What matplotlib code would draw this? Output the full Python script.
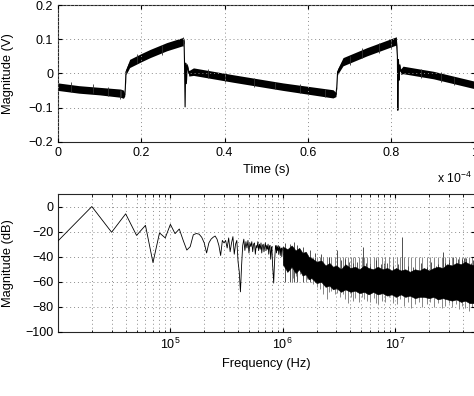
import numpy as np
import matplotlib.pyplot as plt
from matplotlib.ticker import FixedLocator, LogLocator, NullFormatter, FuncFormatter

plt.rcParams['font.family'] = ['Liberation Sans', 'DejaVu Sans']
plt.rcParams['mathtext.default'] = 'regular'

# --- Zeitsignal (t in 1e-4 s) ---
sig_t = [0.00, 0.05, 0.10, 0.150, 0.157, 0.160, 0.1615, 0.163, 0.172, 0.20, 0.221, 0.261, 0.300,
         0.3025, 0.3035, 0.3050, 0.3065, 0.3080, 0.310, 0.314, 0.325, 0.42, 0.54, 0.660,
         0.667, 0.669, 0.671, 0.684, 0.741, 0.812, 0.8145, 0.8155, 0.8170, 0.8185, 0.820,
         0.8225, 0.828, 0.901, 1.00]
sig_v = [-0.039, -0.047, -0.052, -0.058, -0.061, -0.063, -0.045, 0.004, 0.029, 0.046, 0.058, 0.078, 0.093,
         0.095, 0.040, -0.098, 0.030, -0.030, 0.025, 0.000, 0.005, -0.015, -0.039, -0.060,
         -0.062, -0.040, 0.005, 0.034, 0.063, 0.095, 0.050, -0.108, 0.040, -0.020, 0.025,
         0.005, 0.010, -0.005, -0.034]
sig_amp = [0.011, 0.011, 0.011, 0.012, 0.012, 0.004, 0.003, 0.008, 0.012, 0.012, 0.012, 0.012, 0.012,
           0.006, 0.002, 0.002, 0.002, 0.002, 0.004, 0.008, 0.011, 0.011, 0.011, 0.012,
           0.006, 0.002, 0.008, 0.012, 0.012, 0.012, 0.002, 0.002, 0.002, 0.002, 0.004,
           0.008, 0.011, 0.011, 0.011]
# einzelne Ausreisser
spike_t = [0.03, 0.085, 0.12, 0.148, 0.152, 0.19, 0.25, 0.30, 0.36, 0.40, 0.47, 0.52, 0.58, 0.64,
           0.70, 0.73, 0.77, 0.80, 0.87, 0.92, 0.95]
spike_lo = [-0.055, -0.058, -0.066, -0.075, -0.070, 0.030, 0.055, 0.080, -0.015, -0.025, -0.040, -0.045,
            -0.058, -0.070, 0.025, 0.045, 0.060, 0.070, -0.015, -0.025, -0.035]
spike_hi = [-0.025, -0.030, -0.040, -0.050, -0.050, 0.058, 0.082, 0.105, 0.012, 0.002, -0.015, -0.025,
            -0.032, -0.045, 0.052, 0.075, 0.090, 0.100, 0.012, 0.005, -0.010]

# --- Spektrum ---
# Bins von 10 kHz bis 1 MHz (10 kHz Schritt)
spec_db = [-27.4, 0.0, -20.5, -5.8, -23.0, -15.0, -44.7, -21.0, -25.0, -14.2,
           -21.6, -17.9, -27.0, -34.7, -32.0, -22.5, -21.5, -22.0, -24.5, -29.0,
           -37.0, -29.0, -26.0, -24.5, -23.5, -26.0, -31.0, -39.0, -27.0, -29.0,
           -27, -33, -25, -36, -29, -24, -38, -30, -27, -44,
           -52, -68, -47, -31, -26, -35, -28, -33, -27, -37,
           -29, -32, -28, -36, -30, -29, -38, -31, -33, -28,
           -35, -30, -34, -29, -37, -31, -30, -36, -32, -29,
           -35, -31, -34, -30, -38, -32, -31, -42, -35, -32,
           -45, -53, -61, -49, -40, -33, -31, -37, -32, -35,
           -31, -38, -33, -32, -39, -34, -33, -40, -35, -33]
bin_f = np.arange(1, 101) * 1e4

# dichtes Band oberhalb 1 MHz
band_f = [1.0e6, 1.1e6, 1.2e6, 1.3e6, 1.4e6, 1.5e6, 1.6e6, 1.7e6, 1.8e6, 2.0e6, 2.2e6, 2.4e6,
          2.6e6, 2.8e6, 3.0e6, 3.3e6, 3.6e6, 4.0e6, 4.4e6, 4.8e6, 5.3e6, 5.8e6, 6.4e6, 7.0e6,
          7.7e6, 8.5e6, 9.3e6, 1.02e7, 1.12e7, 1.23e7, 1.35e7, 1.5e7, 1.65e7, 1.8e7, 2.0e7,
          2.2e7, 2.4e7, 2.65e7, 2.9e7, 3.2e7, 3.5e7, 3.85e7, 4.2e7, 4.6e7, 5.1e7]
band_top = [-32, -34, -31, -35, -33, -37, -36, -40, -41, -44, -43, -47,
            -45, -48, -47, -50, -46, -49, -48, -50, -47, -49, -50, -48,
            -50, -49, -51, -49, -51, -50, -52, -50, -51, -49, -51,
            -49, -48, -49, -46, -47, -45, -46, -44, -46, -47]
band_bot = [-46, -52, -48, -53, -50, -55, -54, -58, -57, -61, -60, -64,
            -63, -66, -65, -68, -66, -68, -67, -69, -68, -70, -68, -70,
            -69, -71, -70, -72, -70, -72, -71, -73, -72, -72, -73,
            -72, -74, -73, -74, -75, -74, -76, -75, -77, -77]

up_f = [1.05e6, 1.15e6, 1.25e6, 1.35e6, 1.5e6, 1.75e6, 1.95e6, 2.2e6, 2.6e6, 3.03e6, 3.3e6, 3.6e6,
        3.9e6, 4.2e6, 4.6e6, 5.16e6, 5.5e6, 6.0e6, 6.8e6, 7.5e6, 8.0e6, 8.5e6, 9.5e6, 1.05e7,
        1.15e7, 1.3e7, 1.45e7, 1.7e7, 1.9e7, 2.1e7, 2.3e7, 2.4e7, 2.68e7, 2.8e7, 3.0e7, 3.3e7,
        3.6e7, 3.9e7, 4.1e7, 4.3e7, 4.7e7, 4.9e7]
up_db = [-29, -30, -28, -31, -32, -35, -37, -38, -40, -35, -43, -42,
         -44, -45, -44, -32, -45, -46, -43, -46, -45, -45, -47, -46,
         -24, -47, -48, -45, -48, -44, -47, -46, -36, -45, -43, -40,
         -42, -42, -41, -41, -45, -43]

dn_f = [1.08e6, 1.2e6, 1.23e6, 1.32e6, 1.42e6, 1.6e6, 1.63e6, 1.75e6, 1.85e6, 2.02e6, 2.15e6, 2.3e6,
        2.48e6, 2.6e6, 2.7e6, 2.9e6, 3.05e6, 3.2e6, 3.45e6, 3.6e6, 3.8e6, 4.05e6, 4.2e6, 4.4e6,
        4.75e6, 5.1e6, 5.3e6, 5.6e6, 6.0e6, 6.5e6, 6.8e6, 7.1e6, 7.6e6, 8.2e6, 8.8e6, 9.5e6,
        1.03e7, 1.1e7, 1.2e7, 1.3e7, 1.38e7, 1.5e7, 1.62e7, 1.75e7, 1.9e7, 2.05e7, 2.2e7, 2.4e7,
        2.6e7, 2.8e7, 3.0e7, 3.2e7, 3.45e7, 3.7e7, 3.95e7, 4.2e7, 4.5e7, 4.8e7, 5.0e7]
dn_db = [-52, -60, -57, -55, -54, -60, -58, -58, -62, -64, -66, -70,
         -74, -68, -67, -70, -69, -72, -70, -74, -77, -72, -75, -73,
         -76, -72, -74, -75, -76, -73, -77, -78, -75, -76, -72, -77,
         -78, -74, -79, -76, -81, -78, -76, -80, -78, -76, -80, -77,
         -81, -79, -77, -80, -78, -82, -79, -81, -83, -80, -82]


def fmt_num(v, pos):
    return ('%g' % v).replace('-', '\u2212')


fig = plt.figure(figsize=(4.74, 3.96), dpi=100)
W, H = 474.0, 396.0
ax1 = fig.add_axes([58 / W, 1 - 141.7 / H, 416.7 / W, 136.7 / H])
ax2 = fig.add_axes([58 / W, 1 - 332 / H, 416.7 / W, 138 / H])

grid_kw = dict(color='0.55', linestyle=(0, (1, 3)), linewidth=0.7)

# oberer Plot
t = np.array(sig_t)
v = np.array(sig_v)
a = np.array(sig_amp)
ax1.fill_between(t, v - a, v + a, color='k', linewidth=0)
ax1.plot(t, v, color='k', linewidth=0.8)
ax1.vlines(spike_t, spike_lo, spike_hi, color='0.2', linewidth=0.6)
ax1.set_xlim(0, 1)
ax1.set_ylim(-0.2, 0.2)
ax1.set_xticks([0, 0.2, 0.4, 0.6, 0.8, 1.0])
ax1.set_yticks([-0.2, -0.1, 0, 0.1, 0.2])
ax1.xaxis.set_major_formatter(FuncFormatter(fmt_num))
ax1.yaxis.set_major_formatter(FuncFormatter(fmt_num))
ax1.grid(True, **grid_kw)
ax1.set_xlabel('Time (s)', fontsize=9.3, labelpad=4)
ax1.set_ylabel('Magnitude (V)', fontsize=9.3)
ax1.yaxis.set_label_coords(-0.105, 0.5)
fig.text(472 / W, 1 - 178 / H, 'x 10$^{\u22124}$', fontsize=8.8, va='center', ha='right')

# unterer Plot
ax2.vlines(dn_f, dn_db, -40, color='0.4', linewidth=0.55, zorder=2)
ax2.vlines(up_f, -60, up_db, color='0.2', linewidth=0.6, zorder=2)
ax2.fill_between(band_f, band_bot, band_top, color='k', linewidth=0.4, edgecolor='k', zorder=3)
ax2.plot(bin_f, spec_db, color='k', linewidth=0.6, zorder=3)
ax2.set_xscale('log')
ax2.set_xlim(1.0e4, 5.1e7)
ax2.set_ylim(-100, 10)
ax2.xaxis.set_major_locator(FixedLocator([1e5, 1e6, 1e7]))
ax2.xaxis.set_major_formatter(FuncFormatter(lambda x, p: '$10^{%d}$' % round(np.log10(x))))
ax2.xaxis.set_minor_locator(LogLocator(base=10, subs=np.arange(2, 10)))
ax2.xaxis.set_minor_formatter(NullFormatter())
ax2.set_yticks([-100, -80, -60, -40, -20, 0])
ax2.yaxis.set_major_formatter(FuncFormatter(fmt_num))
ax2.grid(True, which='both', axis='x', **grid_kw)
ax2.grid(True, which='major', axis='y', **grid_kw)
ax2.set_xlabel('Frequency (Hz)', fontsize=9.3, labelpad=4)
ax2.set_ylabel('Magnitude (dB)', fontsize=9.3)
ax2.yaxis.set_label_coords(-0.105, 0.5)

for ax in (ax1, ax2):
    ax.set_axisbelow(False)
    ax.tick_params(which='both', direction='in', top=True, right=True, labelsize=9, length=3)
    ax.tick_params(which='minor', length=1.8)
    for s in ax.spines.values():
        s.set_linewidth(0.8)
        s.set_color('0.15')

fig.savefig('out.png', dpi=100)
